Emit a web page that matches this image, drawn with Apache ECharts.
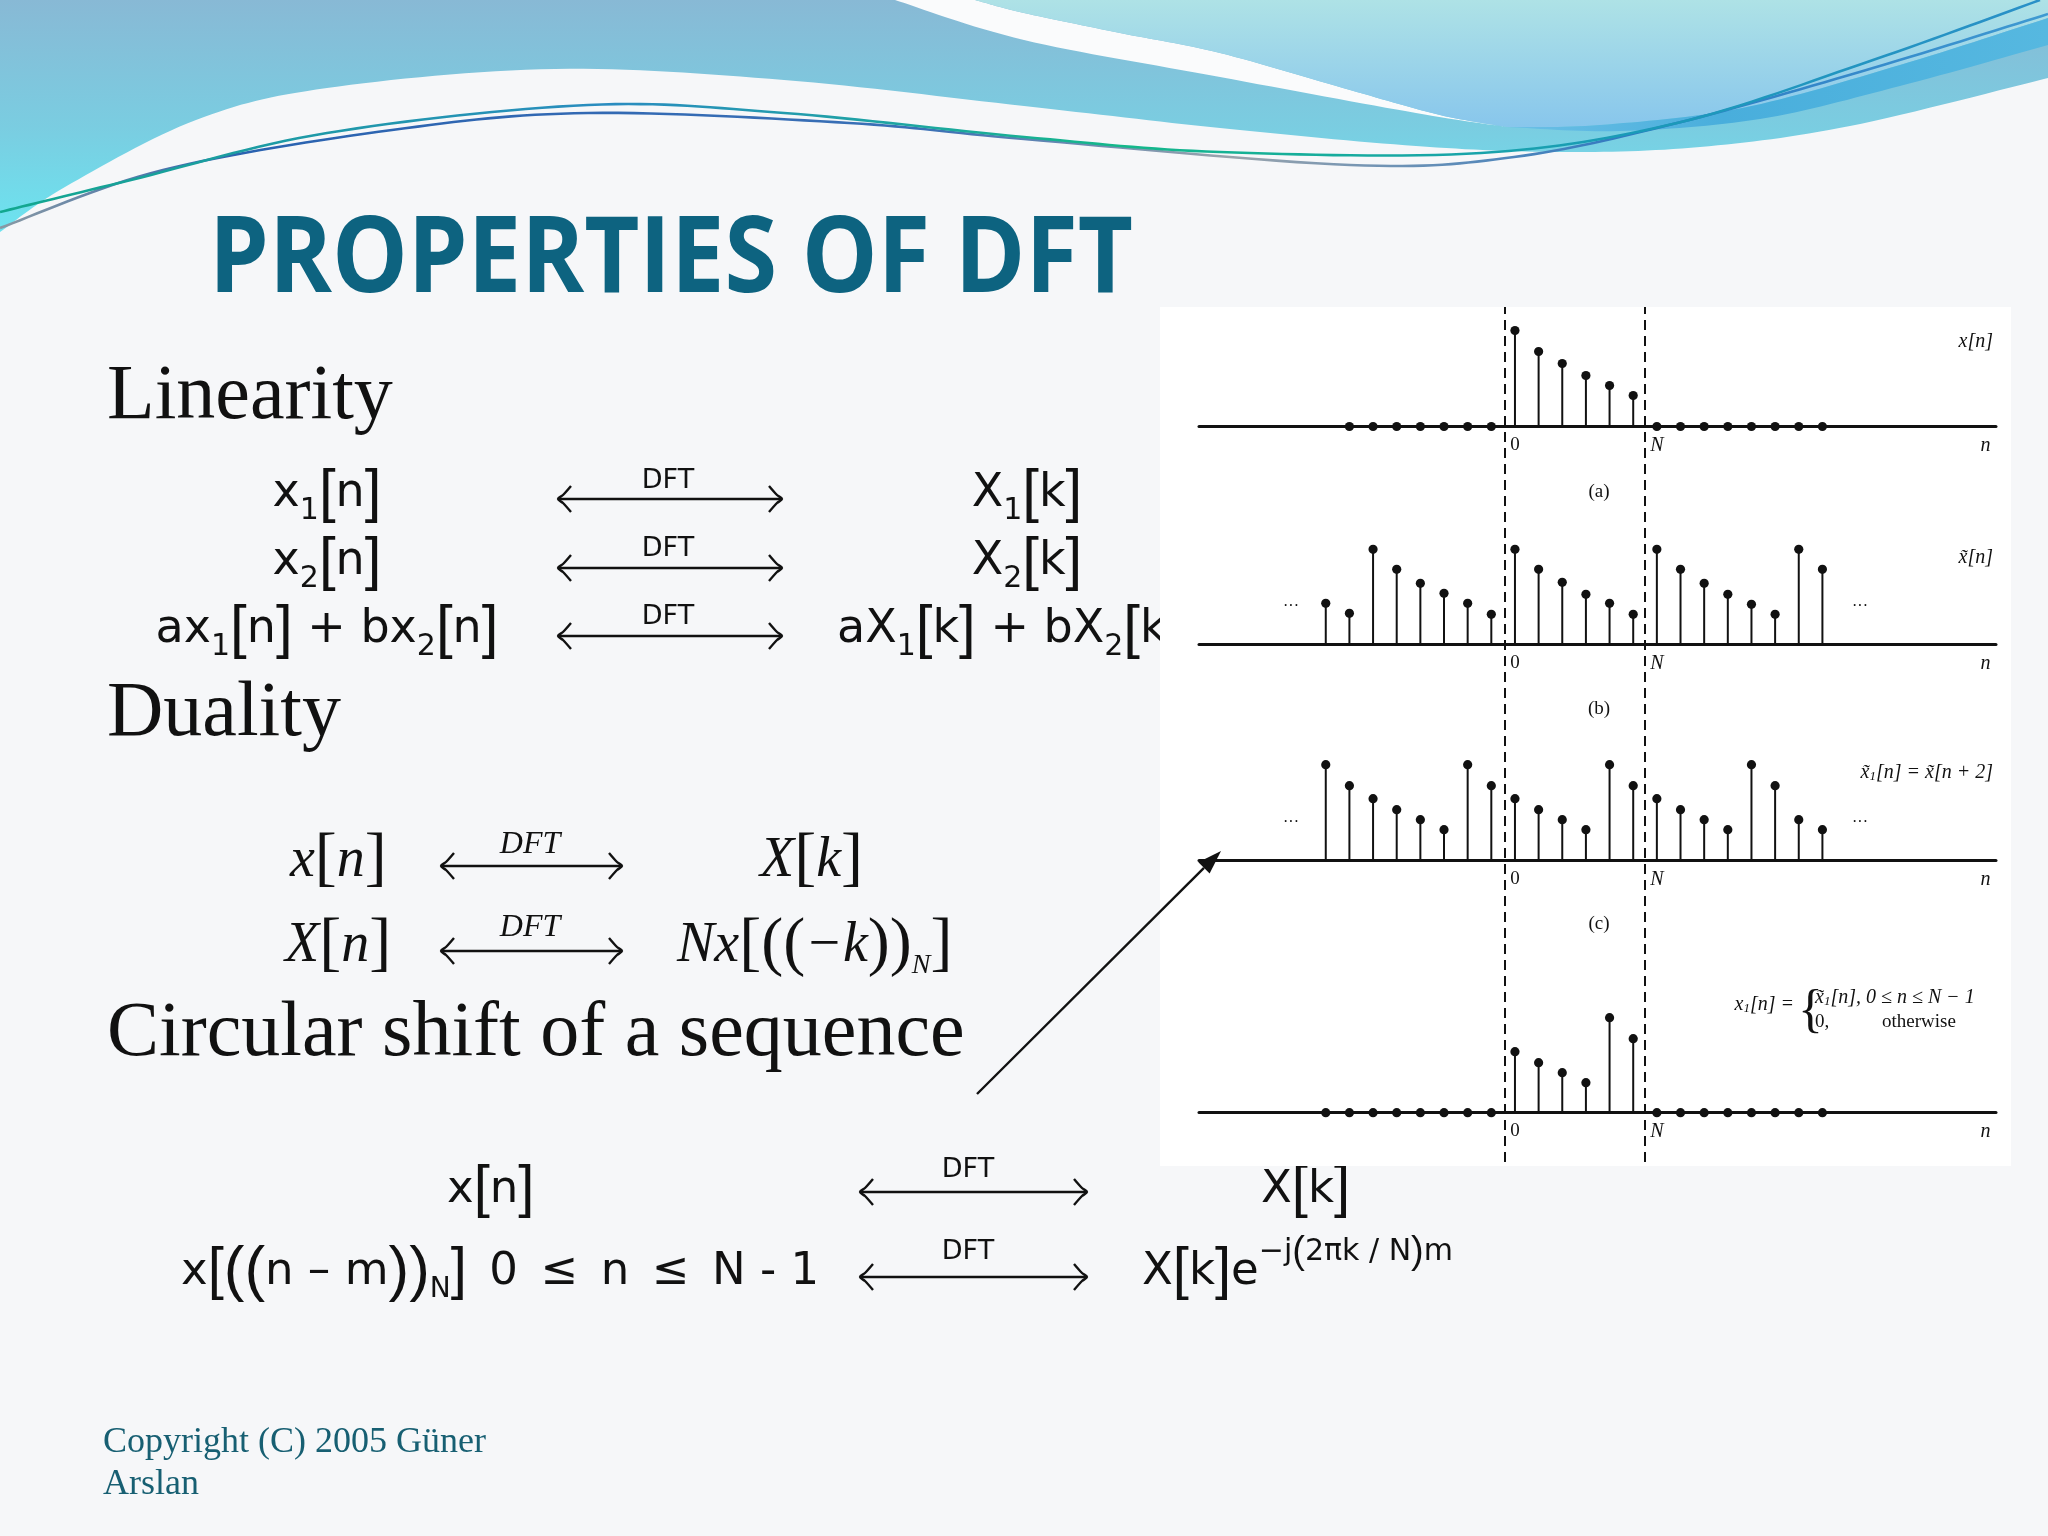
<!DOCTYPE html>
<html>
<head>
<meta charset="utf-8">
<script src="https://cdn.jsdelivr.net/npm/echarts@6.0.0/dist/echarts.min.js"></script>
<style>
html,body{margin:0;padding:0;background:#f6f7f9;}
#chart{width:2048px;height:1536px;}
</style>
</head>
<body>
<div id="chart"></div>
<script>
// ---------------- data ----------------
const slideTitle = 'PROPERTIES OF DFT';
const sectionHeads = ['Linearity', 'Duality', 'Circular shift of a sequence'];
const panelLabels = ['(a)', '(b)', '(c)'];

// panel (a): x[n]
const nA = [-7,-6,-5,-4,-3,-2,-1,0,1,2,3,4,5,6,7,8,9,10,11,12,13];
const xA = [0,0,0,0,0,0,0,9.6,7.5,6.3,5.1,4.1,3.1,0,0,0,0,0,0,0,0];
// panel (b): periodic extension x~[n]
const nB = [-8,-7,-6,-5,-4,-3,-2,-1,0,1,2,3,4,5,6,7,8,9,10,11,12,13];
const xB = [4.1,3.1,9.5,7.5,6.1,5.1,4.1,3.0,9.5,7.5,6.2,5.0,4.1,3.0,9.5,7.5,6.1,5.0,4.0,3.0,9.5,7.5];
// panel (c): x~1[n] = x~[n+2]
const nC = [-8,-7,-6,-5,-4,-3,-2,-1,0,1,2,3,4,5,6,7,8,9,10,11,12,13];
const xC = [9.6,7.5,6.2,5.1,4.1,3.1,9.6,7.5,6.2,5.1,4.1,3.1,9.6,7.5,6.2,5.1,4.1,3.1,9.6,7.5,4.1,3.1];
// panel (d): x1[n]
const nD = [-8,-7,-6,-5,-4,-3,-2,-1,0,1,2,3,4,5,6,7,8,9,10,11,12,13];
const xD = [0,0,0,0,0,0,0,0,6.1,5.0,4.0,3.0,9.5,7.4,0,0,0,0,0,0,0,0];

const axisMarks = [0, 6, 19.9];
const axisMarkLabels = ['0', 'N', 'n'];
const periodEdges = [-0.45, 5.5];

// ---------------- layout ----------------
const FIG = {left: 1199, width: 797, nMin: -13.36, nMax: 20.34};
const baselines = [426.5, 644.3, 860.7, 1112.7];
const PANEL_H = 100;
const SANS = '"DejaVu Sans"', SERIF = '"Liberation Serif"', LSANS = '"Liberation Sans"';
const INK = '#111';

// Catmull-Rom sampling of a smooth curve through points (decorative background only)
function sampleCR(pts, steps) {
  steps = steps || 16;
  const out = [pts[0].slice()];
  for (let i = 0; i < pts.length - 1; i++) {
    const p0 = pts[i - 1] || pts[i], p1 = pts[i], p2 = pts[i + 1], p3 = pts[i + 2] || p2;
    for (let s = 1; s <= steps; s++) {
      const t = s / steps, t2 = t * t, t3 = t2 * t;
      const f = k => 0.5 * ((2 * p1[k]) + (-p0[k] + p2[k]) * t + (2 * p0[k] - 5 * p1[k] + 4 * p2[k] - p3[k]) * t2 + (-p0[k] + 3 * p1[k] - 3 * p2[k] + p3[k]) * t3);
      out.push([f(0), f(1)]);
    }
  }
  return out;
}

// wave background geometry
const boundary = [[2048,78],[1850,126],[1700,147],[1560,152],[1416,146],[1220,128],[1024,106],[784,80],[555,69],[327,88],[196,120],[65,187],[0,232]];
const stripeUpper = [[975,0],[1024,13],[1120,33],[1220,53],[1350,90],[1440,115],[1507,127]];
const stripeLower = [[1507,127],[1416,113],[1220,77],[1024,40],[895,0]];
const bandUpper = [[2048,18],[1900,65],[1742,108],[1600,125],[1507,127]];
const bandLower = [[1507,127],[1620,131],[1760,119],[1900,86],[2048,45]];
const lineG = [[0,212],[131,180],[327,133],[588,105],[784,113],[1024,137],[1220,152],[1481,153],[1677,123],[1873,60],[2040,0]];
const lineB = [[0,228],[163,170],[392,130],[588,113],[849,123],[1024,139],[1350,165],[1514,157],[1677,123],[1873,68],[2048,14]];

const polyA = [[0,0],[2048,0]].concat(sampleCR(boundary));
const polyStripe = sampleCR(stripeUpper).concat(sampleCR(stripeLower));
const polyR = [[975,0],[2048,0]].concat(sampleCR(bandUpper)).concat(sampleCR(stripeUpper.slice().reverse()));
const polyD = sampleCR(bandUpper).concat(sampleCR(bandLower));

function txt(x, y, text, font, opts) {
  opts = opts || {};
  const align = opts.align || 'left';
  const style = Object.assign({
    text: text, font: font, fill: opts.fill || INK,
    align: align, textAlign: align, verticalAlign: 'middle', textVerticalAlign: 'middle'
  }, opts.rich ? {rich: opts.rich} : {});
  const el = {type: 'text', x: x, y: y, z: opts.z != null ? opts.z : 3, silent: true, style: style};
  if (opts.scaleX) el.scaleX = opts.scaleX;
  return el;
}

function dblArrow(x1, x2, y, z) {
  const s = {stroke: INK, lineWidth: 2.4, fill: null};
  return [
    {type: 'line', z: z || 3, silent: true, shape: {x1: x1, y1: y, x2: x2, y2: y}, style: s},
    {type: 'polyline', z: z || 3, silent: true, shape: {points: [[x1+13, y-13], [x1+5, y-4], [x1, y], [x1+5, y+4], [x1+13, y+13]], smooth: 0.3}, style: s},
    {type: 'polyline', z: z || 3, silent: true, shape: {points: [[x2-13, y-13], [x2-5, y-4], [x2, y], [x2-5, y+4], [x2-13, y+13]], smooth: 0.3}, style: s}
  ];
}

// slanted pointer arrow
const ptrFrom = [977, 1094], ptrTo = [1221, 851];
const ux = (ptrTo[0]-ptrFrom[0]), uy = (ptrTo[1]-ptrFrom[1]);
const ul = Math.sqrt(ux*ux+uy*uy);
const ex = ux/ul, ey = uy/ul;
const hb = [ptrTo[0]-24*ex, ptrTo[1]-24*ey];
const arrowHead = [[ptrTo[0], ptrTo[1]], [hb[0]+8*(-ey), hb[1]+8*ex], [hb[0]-8*(-ey), hb[1]-8*ex]];

// rich styles
const richLin = {b: {font: `60px ${LSANS}`}, s: {font: `30px ${SANS}`, padding: [35,0,0,0]}};
const richDual = {b: {font: `66px ${SERIF}`}, s: {font: `italic 28px ${SERIF}`, padding: [39,0,0,0]}};
const richCirc = {
  b: {font: `58px ${LSANS}`},
  bb: {font: `62px ${LSANS}`},
  s: {font: `28px ${SANS}`, padding: [36,0,0,0]},
  p: {font: `30px ${SANS}`, padding: [0,0,39,0]},
  pb: {font: `38px ${LSANS}`, padding: [0,0,39,0]}
};
const richFig = {s: {font: `italic 13px ${SERIF}`, padding: [8,0,0,0]}};

const FS_LIN = `46px ${SANS}`;
const FS_DUAL = `italic 56px ${SERIF}`;
const FS_CIRC = `45px ${SANS}`;
const FS_DFT = `27px ${SANS}`;
const FS_DFT_I = `italic 32px ${SERIF}`;
const FS_HEAD = `78px ${SERIF}`;
const FS_FIG = `italic 20px ${SERIF}`;
const FS_FIG_U = `19px ${SERIF}`;
const ES = '\u2002';

const elements = [];
// background waves
elements.push({type: 'polygon', z: 0, silent: true, shape: {points: polyA},
  style: {fill: {type: 'linear', x: 0, y: 0, x2: 0, y2: 1, colorStops: [
    {offset: 0, color: '#88b9d5'}, {offset: 0.55, color: '#7acde1'}, {offset: 1, color: '#6ce4f0'}]}}});
elements.push({type: 'polygon', z: 0, silent: true, shape: {points: polyStripe}, style: {fill: '#fafbfc'}});
elements.push({type: 'polygon', z: 0, silent: true, shape: {points: polyR},
  style: {fill: {type: 'linear', x: 0, y: 0, x2: 0, y2: 1, colorStops: [
    {offset: 0, color: '#aee2e6'}, {offset: 1, color: '#88c6ec'}]}}});
elements.push({type: 'polygon', z: 0, silent: true, shape: {points: polyD},
  style: {fill: {type: 'linear', x: 0, y: 0, x2: 1, y2: 0, colorStops: [
    {offset: 0, color: '#6cc0e6'}, {offset: 0.4, color: '#49aedc'}, {offset: 1, color: '#56b8e0'}]}}});
elements.push({type: 'polyline', z: 0.5, silent: true, shape: {points: sampleCR(lineB)},
  style: {fill: null, lineWidth: 2.6, stroke: {type: 'linear', x: 0, y: 0, x2: 1, y2: 0, colorStops: [
    {offset: 0, color: '#8a9aa4'}, {offset: 0.12, color: '#2a62b0'}, {offset: 0.45, color: '#3a70b6'}, {offset: 0.6, color: '#9aa4ac'}, {offset: 0.8, color: '#2d78c2'}, {offset: 1, color: '#3e9ad2'}]}}});
elements.push({type: 'polyline', z: 0.5, silent: true, shape: {points: sampleCR(lineG)},
  style: {fill: null, lineWidth: 2.6, stroke: {type: 'linear', x: 0, y: 0, x2: 1, y2: 0, colorStops: [
    {offset: 0, color: '#12a88e'}, {offset: 0.3, color: '#2a8cc0'}, {offset: 0.55, color: '#14b88a'}, {offset: 0.8, color: '#1a9ab8'}, {offset: 1, color: '#2a90c8'}]}}});

// title
elements.push(txt(209, 262, slideTitle, `bold 106px "Open Sans"`, {fill: '#0d6380', scaleX: 0.9}));

// section headings
elements.push(txt(107, 398, sectionHeads[0], FS_HEAD));
elements.push(txt(107, 715, sectionHeads[1], FS_HEAD));
elements.push(txt(107, 1035, sectionHeads[2], FS_HEAD));

// linearity
elements.push(txt(327, 494, 'x{s|1}{b|[}n{b|]}', FS_LIN, {align: 'center', rich: richLin}));
elements.push(txt(327, 562, 'x{s|2}{b|[}n{b|]}', FS_LIN, {align: 'center', rich: richLin}));
elements.push(txt(327, 630, 'ax{s|1}{b|[}n{b|]} + bx{s|2}{b|[}n{b|]}', FS_LIN, {align: 'center', rich: richLin}));
elements.push(txt(1027, 494, 'X{s|1}{b|[}k{b|]}', FS_LIN, {align: 'center', rich: richLin}));
elements.push(txt(1027, 562, 'X{s|2}{b|[}k{b|]}', FS_LIN, {align: 'center', rich: richLin}));
elements.push(txt(837, 630, 'aX{s|1}{b|[}k{b|]} + bX{s|2}{b|[}k{b|]}', FS_LIN, {rich: richLin, z: 1}));
[481, 549, 617].forEach(y => elements.push(txt(668, y, 'DFT', FS_DFT, {align: 'center'})));
[499, 568, 636].forEach(y => dblArrow(558, 782, y).forEach(e => elements.push(e)));

// duality
elements.push(txt(290, 861, 'x{b|[}n{b|]}', FS_DUAL, {rich: richDual}));
elements.push(txt(760, 861, 'X{b|[}k{b|]}', FS_DUAL, {rich: richDual}));
elements.push(txt(285, 946, 'X{b|[}n{b|]}', FS_DUAL, {rich: richDual}));
elements.push(txt(677, 946, 'Nx{b|[((}−k{b|))}{s|N}{b|]}', FS_DUAL, {rich: richDual}));
[845, 928].forEach(y => elements.push(txt(530, y, 'DFT', FS_DFT_I, {align: 'center'})));
[866, 951].forEach(y => dblArrow(441, 622, y).forEach(e => elements.push(e)));

// circular shift
elements.push(txt(447, 1190, 'x{b|[}n{b|]}', FS_CIRC, {rich: richCirc}));
elements.push(txt(1261, 1190, 'X{b|[}k{b|]}', FS_CIRC, {rich: richCirc, z: 1}));
elements.push(txt(181, 1272, 'x{b|[}{bb|((}n – m{bb|))}{s|N}{b|]}' + ES + '0' + ES + '≤' + ES + 'n' + ES + '≤' + ES + 'N - 1', FS_CIRC, {rich: richCirc}));
elements.push(txt(1142, 1272, 'X{b|[}k{b|]}e{p|−j}{pb|(}{p|2πk / N}{pb|)}{p|m}', FS_CIRC, {rich: richCirc}));
[1170, 1252].forEach(y => elements.push(txt(968, y, 'DFT', FS_DFT, {align: 'center'})));
[1192, 1277].forEach(y => dblArrow(860, 1087, y).forEach(e => elements.push(e)));

// copyright
elements.push(txt(103, 1443, 'Copyright (C) 2005 Güner', `36px ${SERIF}`, {fill: '#175f72'}));
elements.push(txt(103, 1485, 'Arslan', `36px ${SERIF}`, {fill: '#175f72'}));

// figure box
elements.push({type: 'rect', z: 2, silent: true, shape: {x: 1160, y: 307, width: 851, height: 859}, style: {fill: '#ffffff'}});

// pointer arrow
elements.push({type: 'line', z: 10, silent: true, shape: {x1: ptrFrom[0], y1: ptrFrom[1], x2: hb[0], y2: hb[1]}, style: {stroke: INK, lineWidth: 2.4}});
elements.push({type: 'polygon', z: 10, silent: true, shape: {points: arrowHead}, style: {fill: INK}});

// figure annotations
elements.push(txt(1993, 342, 'x[n]', FS_FIG, {align: 'right', z: 10}));
elements.push(txt(1993, 558, 'x̃[n]', FS_FIG, {align: 'right', z: 10}));
elements.push(txt(1993, 773, 'x̃{s|1}[n] = x̃[n + 2]', FS_FIG, {align: 'right', z: 10, rich: richFig}));
elements.push(txt(1794, 1005, 'x{s|1}[n] =', FS_FIG, {align: 'right', z: 10, rich: richFig}));
elements.push(txt(1798, 1012, '{', `normal 52px ${SERIF}`, {z: 10}));
elements.push(txt(1815, 998, 'x̃{s|1}[n], 0 ≤ n ≤ N − 1', FS_FIG, {z: 10, rich: richFig}));
elements.push(txt(1815, 1022, '0,', FS_FIG_U, {z: 10}));
elements.push(txt(1882, 1022, 'otherwise', FS_FIG_U, {z: 10}));
[[492, 0], [709, 1], [924, 2]].forEach(p => elements.push(txt(1599, p[0], panelLabels[p[1]], FS_FIG_U, {align: 'center', z: 10})));
[[1291, 607], [1860, 607], [1291, 823], [1860, 823]].forEach(p => elements.push(txt(p[0], p[1], '···', `16px ${SERIF}`, {align: 'center', z: 10})));

// ---------------- chart ----------------
function stemRender(params, api) {
  const n = api.value(0), v = api.value(1);
  const p0 = api.coord([n, 0]);
  const p1 = api.coord([n, v]);
  return {type: 'group', children: [
    {type: 'line', shape: {x1: p0[0], y1: p0[1], x2: p1[0], y2: p1[1]}, style: {stroke: INK, lineWidth: 2}},
    {type: 'circle', shape: {cx: p1[0], cy: p1[1], r: 4.6}, style: {fill: INK}}
  ]};
}

const panels = [[nA, xA], [nB, xB], [nC, xC], [nD, xD]];
const grids = baselines.map(b => ({left: FIG.left, top: b - PANEL_H, width: FIG.width, height: PANEL_H, containLabel: false}));
grids.push({left: FIG.left, top: 307, width: FIG.width, height: 855});

const xAxes = baselines.map((b, i) => ({
  type: 'value', gridIndex: i, min: FIG.nMin, max: FIG.nMax, z: 6,
  axisLine: {show: true, onZero: false, lineStyle: {color: INK, width: 3}},
  axisTick: {show: false}, splitLine: {show: false},
  axisLabel: {
    customValues: axisMarks, margin: 9, fontFamily: 'Liberation Serif', fontSize: 19, color: INK,
    formatter: function (v) {
      let k = 0, best = 1e9;
      axisMarks.forEach((m, j) => { if (Math.abs(m - v) < best) { best = Math.abs(m - v); k = j; } });
      return k === 0 ? axisMarkLabels[k] : '{i|' + axisMarkLabels[k] + '}';
    },
    rich: {i: {fontFamily: 'Liberation Serif', fontStyle: 'italic', fontSize: 20, color: INK}}
  }
}));
xAxes.push({type: 'value', gridIndex: 4, min: FIG.nMin, max: FIG.nMax, show: false});
const yAxes = baselines.map((b, i) => ({type: 'value', gridIndex: i, min: 0, max: 10, show: false}));
yAxes.push({type: 'value', gridIndex: 4, min: 0, max: 1, show: false});

const series = panels.map((p, i) => ({
  type: 'custom', xAxisIndex: i, yAxisIndex: i, z: 7, clip: false, silent: true,
  data: p[0].map((n, k) => [n, p[1][k]]),
  renderItem: stemRender
}));
series.push({
  type: 'line', xAxisIndex: 4, yAxisIndex: 4, z: 7, data: [[0, 0]], symbol: 'none', silent: true,
  lineStyle: {opacity: 0},
  markLine: {silent: true, symbol: ['none', 'none'], label: {show: false}, animation: false,
    lineStyle: {type: [10, 6], color: INK, width: 2},
    data: periodEdges.map(v => ({xAxis: v}))}
});

const chart = echarts.init(document.getElementById('chart'), null, {renderer: 'canvas'});
chart.setOption({
  backgroundColor: '#f6f7f9',
  animation: false,
  grid: grids,
  xAxis: xAxes,
  yAxis: yAxes,
  series: series,
  graphic: {elements: elements}
});
</script>
</body>
</html>
